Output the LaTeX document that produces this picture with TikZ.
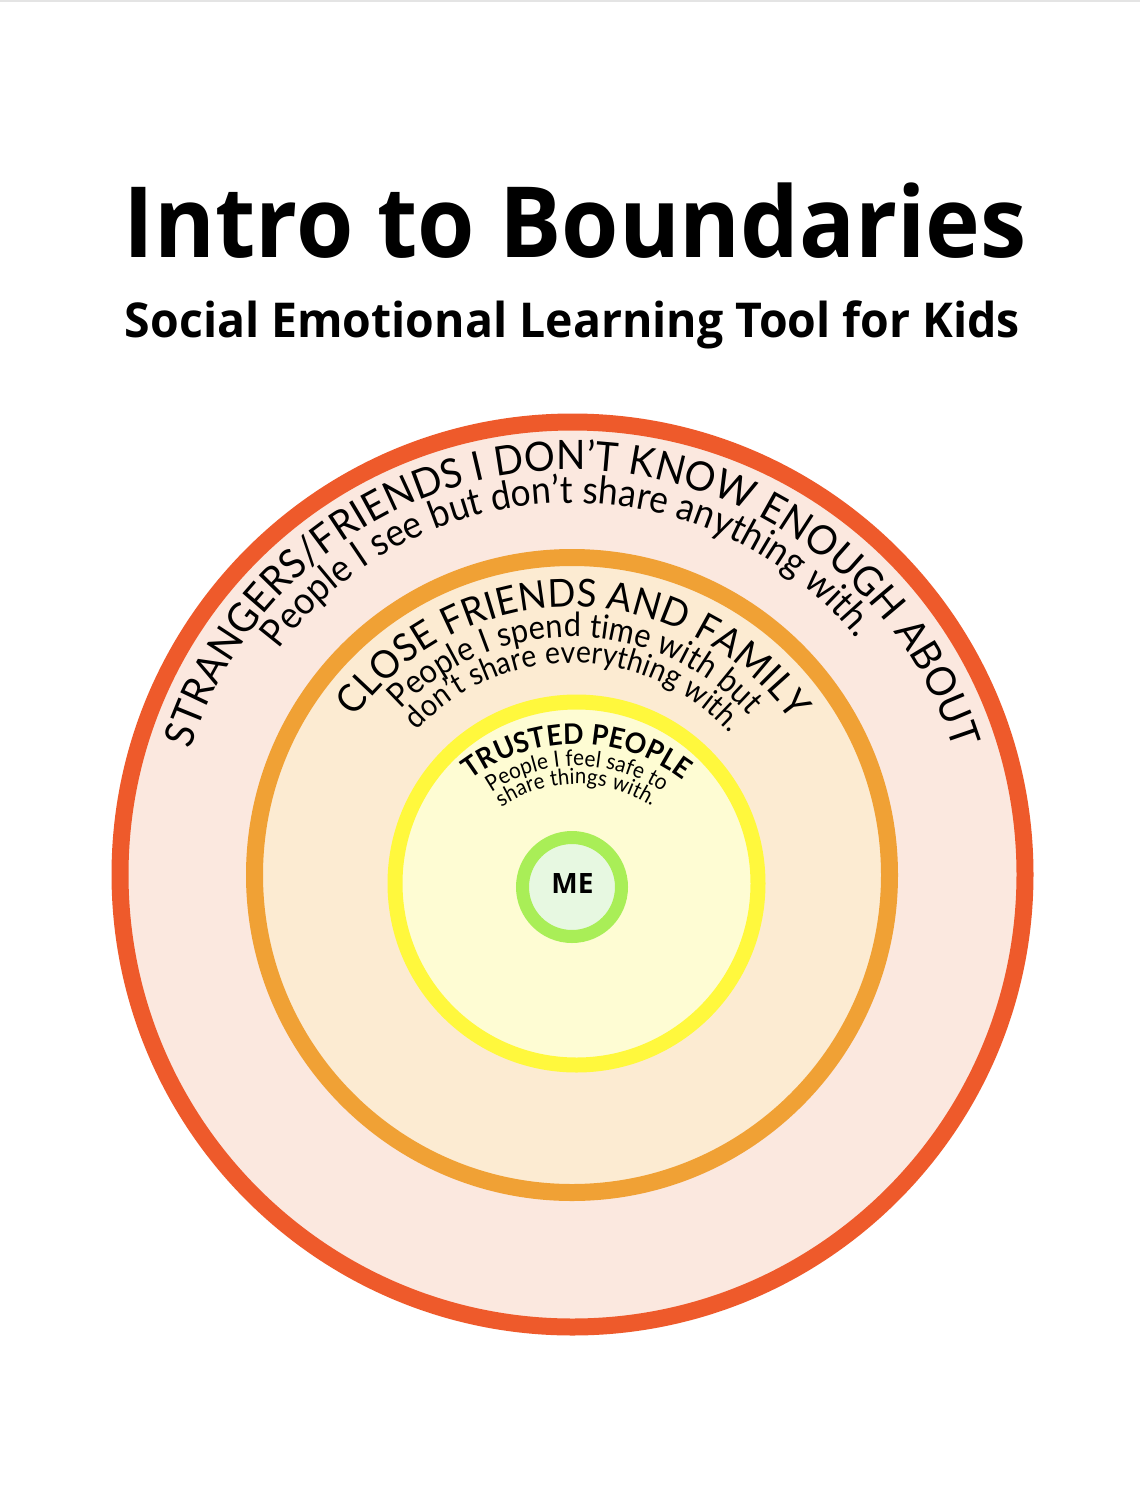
\documentclass[tikz,border=0pt]{standalone}
\usepackage{fontspec}
\usepackage{graphicx}
\setmainfont{Lato}
\newfontfamily\ringcaps{Lato}[Kerning=Off, FakeStretch=0.95]
\newfontfamily\ringlower{Lato}[Kerning=Off, FakeStretch=0.92]
\newfontfamily\headfont{Open Sans}
\usetikzlibrary{decorations.text}
\definecolor{cRed}{HTML}{EE5A2B}
\definecolor{cRedFill}{HTML}{FBE8DF}
\definecolor{cOrange}{HTML}{F0A135}
\definecolor{cOrangeFill}{HTML}{FCEBD2}
\definecolor{cYellow}{HTML}{FFF83D}
\definecolor{cYellowFill}{HTML}{FEFCD3}
\definecolor{cGreen}{HTML}{A9EE57}
\definecolor{cGreenFill}{HTML}{E7F8E1}
\definecolor{cTopLine}{HTML}{E4E4E4}
\newlength\mylen
\newcommand\mkfit[4]{\settowidth\mylen{#2\fontsize{10}{12}\selectfont #4}\pgfmathsetmacro#1{(#3)/\mylen*9.9}}
\tikzset{
  ring/.style={draw=#1, fill=#1Fill},
  ringtext/.style={decorate}
}
\begin{document}%
\mkfit{\szOC}{\ringcaps}{1012.2}{STRANGERS/FRIENDS I DON’T KNOW ENOUGH ABOUT}%
\mkfit{\szOL}{\ringlower}{666.2}{People I see but don’t share anything with.}%
\mkfit{\szRC}{\ringcaps}{509.8}{CLOSE FRIENDS AND FAMILY}%
\mkfit{\szRL}{\ringlower}{390.5}{People I spend time with but}%
\mkfit{\szRM}{\ringlower}{351.5}{don’t share everything with.}%
\mkfit{\szYC}{\ringcaps\bfseries}{228.5}{TRUSTED PEOPLE}%
\mkfit{\szYL}{\ringlower}{181.6}{People I feel safe to}%
\mkfit{\szYM}{\ringlower}{158.9}{share things with.}%
\begin{tikzpicture}[x=1pt,y=1pt]
\useasboundingbox (0,0) rectangle (1140,-1488);
\fill[white] (0,0) rectangle (1140,-1488);
\fill[cTopLine] (0,0) rectangle (1140,-2);
% rings
\draw[ring=cRed, line width=17pt] (572.5,-874.5) circle[radius=452.5];
\draw[ring=cOrange, line width=17pt] (572,-875) circle[radius=317.5];
\draw[ring=cYellow, line width=15pt] (576.5,-883.5) circle[radius=181.5];
\draw[ring=cGreen, line width=13pt] (572,-887) circle[radius=49.5];
% title
\node[anchor=base, inner sep=0] (title) at (575.5,-257)
  {\scalebox{1}[1.06]{\resizebox{903pt}{!}{\headfont\bfseries Intro to Boundaries}}};
\node[anchor=base, inner sep=0] (subtitle) at (572.5,-337)
  {\scalebox{1}[1.035]{\resizebox{895pt}{!}{\headfont\bfseries Social Emotional Learning Tool for Kids}}};
\node[anchor=base, inner sep=0] (me) at (572.5,-893.5) {\headfont\bfseries\fontsize{28}{30}\selectfont ME};
% outer ring texts
\begin{scope}[shift={(572,-870)}]
\path[ringtext, decoration={text along path, text align=fit to path,
  text={|\ringcaps\fontsize{\szOC}{\szOC}\selectfont|STRANGERS/FRIENDS I DON’T KNOW ENOUGH ABOUT}}]
  (162.5:400) arc[start angle=162.5, end angle=17.5, radius=400];
\path[ringtext, decoration={text along path, text align=fit to path,
  text={|\ringlower\fontsize{\szOL}{\szOL}\selectfont|People I see but don’t share anything with.}}]
  (143:367) arc[start angle=143, end angle=39, radius=367];
\end{scope}
% middle ring texts
\begin{scope}[shift={(572,-875)}]
\path[ringtext, decoration={text along path, text align=fit to path,
  text={|\ringcaps\fontsize{\szRC}{\szRC}\selectfont|CLOSE FRIENDS AND FAMILY}}]
  (144:268) arc[start angle=144, end angle=35, radius=268];
\path[ringtext, decoration={text along path, text align=fit to path,
  text={|\ringlower\fontsize{\szRL}{\szRL}\selectfont|People I spend time with but}}]
  (136:238) arc[start angle=136, end angle=42, radius=238];
\path[ringtext, decoration={text along path, text align=fit to path,
  text={|\ringlower\fontsize{\szRM}{\szRM}\selectfont|don’t share everything with.}}]
  (137:212) arc[start angle=137, end angle=42, radius=212];
\end{scope}
% inner ring texts
\begin{scope}[shift={(577,-919)}]
\path[ringtext, decoration={text along path, text align=fit to path,
  text={|\ringcaps\bfseries\fontsize{\szYC}{\szYC}\selectfont|TRUSTED PEOPLE}}]
  (127.4:175) arc[start angle=127.4, end angle=52.6, radius=175];
\path[ringtext, decoration={text along path, text align=fit to path,
  text={|\ringlower\fontsize{\szYL}{\szYL}\selectfont|People I feel safe to}}]
  (124:153) arc[start angle=124, end angle=56, radius=153];
\path[ringtext, decoration={text along path, text align=fit to path,
  text={|\ringlower\fontsize{\szYM}{\szYM}\selectfont|share things with.}}]
  (124:135) arc[start angle=124, end angle=56.5, radius=135];
\end{scope}
\end{tikzpicture}%
\end{document}
